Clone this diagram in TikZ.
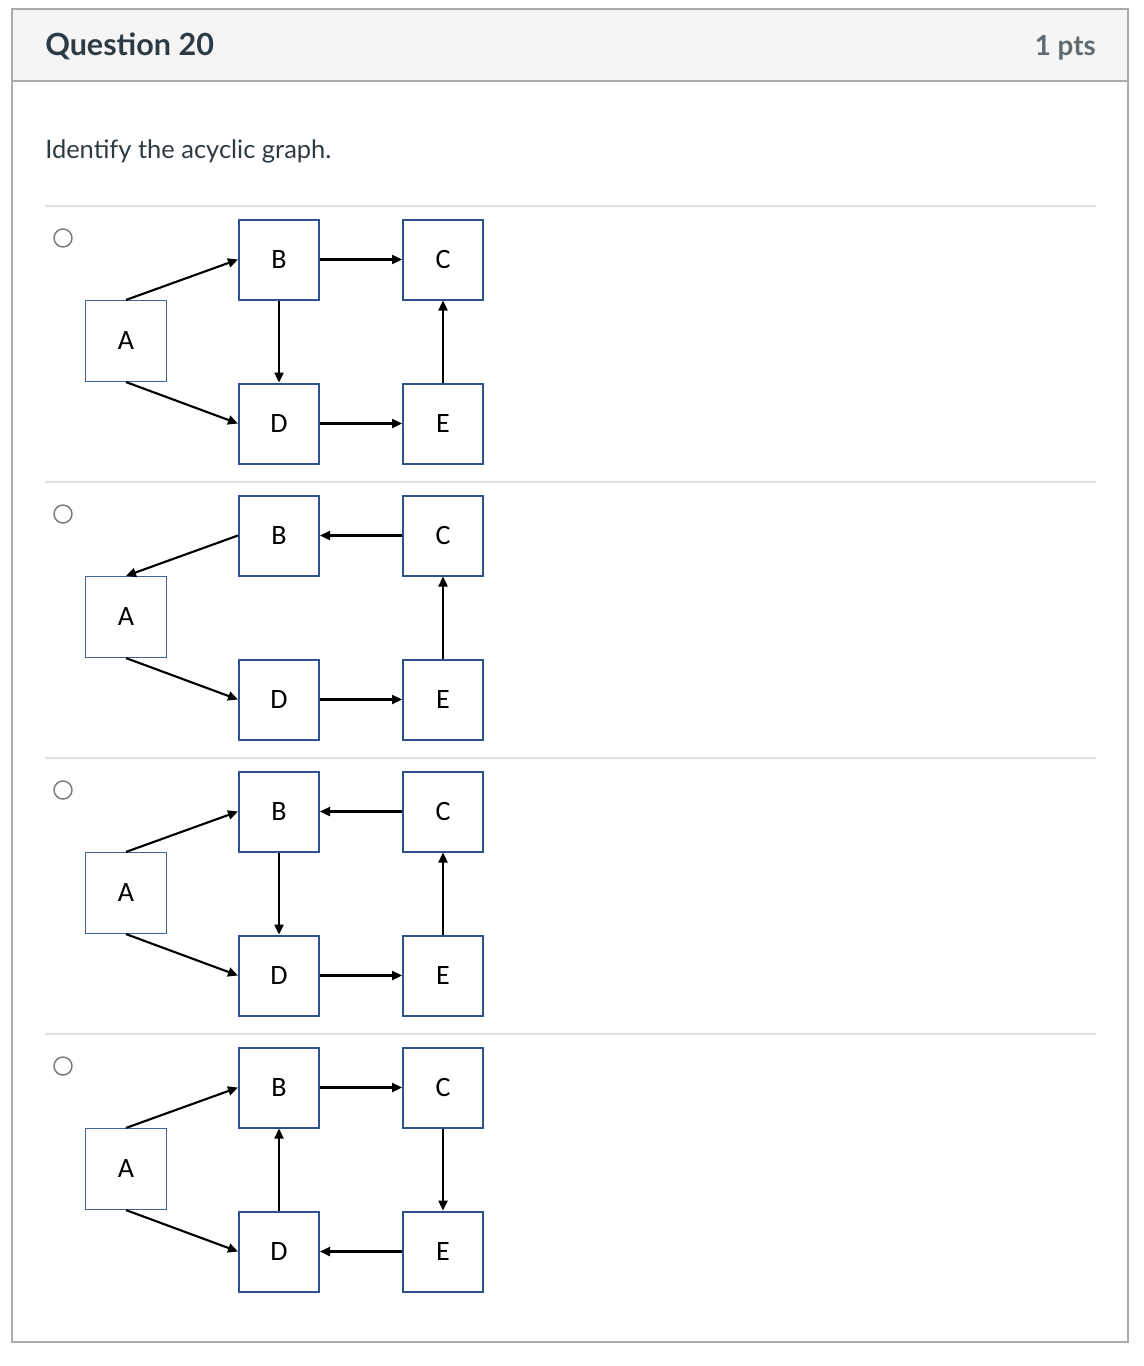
\documentclass[tikz,border=0pt]{standalone}
\usepackage{fontspec}
\setmainfont{Lato}
\newfontfamily\boxfont{Carlito}
\usetikzlibrary{arrows.meta}
\definecolor{hdrfill}{HTML}{F5F5F5}
\definecolor{framegray}{HTML}{ABABAB}
\definecolor{sepgray}{HTML}{E0E0E0}
\definecolor{txtdark}{HTML}{2D3B45}
\definecolor{ptsgray}{HTML}{5F6A73}
\definecolor{boxblue}{HTML}{2F528F}
\definecolor{boxlight}{HTML}{4063A3}
\definecolor{radiogray}{HTML}{7A7A7A}
\tikzset{
  boxtext/.style={font=\boxfont\fontsize{21}{24}\selectfont, text=black},
  vbox/.style={draw=boxblue, line width=1.5pt, minimum size=60pt, inner sep=0pt, boxtext},
  abox/.style={draw=boxlight, line width=0.8pt, minimum size=60.8pt, inner sep=0pt, boxtext},
  radio/.style={draw=radiogray, line width=1.1pt, circle, minimum size=13.5pt, inner sep=0pt},
  arr/.style={draw=black, line width=1.6pt, -{Triangle[length=7.5pt,width=6.8pt]}},
  sepline/.style={draw=sepgray, line width=0.8pt}
}
\begin{document}
\begin{tikzpicture}[x=0.75pt,y=-0.75pt]
\useasboundingbox (0,0) rectangle (1144,1366);
\fill[white] (0,0) rectangle (1144,1366);
\draw[framegray, line width=0.8pt, fill=white] (12,9) rectangle (1128,1342);
\draw[framegray, line width=0.8pt, fill=hdrfill] (12,9) rectangle (1128,81);
\node[anchor=base west, inner sep=0pt, text=txtdark, font=\fontsize{22.9}{27}\selectfont\bfseries] (title) at (45,56) {Question 20};
\node[anchor=base east, inner sep=0pt, text=ptsgray, font=\fontsize{20.8}{24}\selectfont\bfseries] (pts) at (1096,56) {1 pts};
\node[anchor=base west, inner sep=0pt, text=txtdark, font=\fontsize{19.1}{23}\selectfont] (prompt) at (45,158) {Identify the acyclic graph.};
\foreach \k in {0,1,2,3} {
  \begin{scope}[shift={(0,276*\k)}]
    \coordinate (sl\k) at (45,206);
    \coordinate (sr\k) at (1096,206);
    \draw[sepline] (sl\k) -- (sr\k);
    \node[radio] (r\k) at (63,238) {};
    \node[abox] (a\k) at (126,341) {A};
    \node[vbox] (b\k) at (279,259.5) {B};
    \node[vbox] (c\k) at (443,259.5) {C};
    \node[vbox] (d\k) at (279,423.5) {D};
    \node[vbox] (e\k) at (443,423.5) {E};
  \end{scope}
}
% graph 1
\draw[arr] (a0.north) -- (b0.west);
\draw[arr] (b0.east) -- (c0.west);
\draw[arr] (b0.south) -- (d0.north);
\draw[arr] (a0.south) -- (d0.west);
\draw[arr] (e0.north) -- (c0.south);
\draw[arr] (d0.east) -- (e0.west);
% graph 2
\draw[arr] (c1.west) -- (b1.east);
\draw[arr] (b1.west) -- (a1.north);
\draw[arr] (a1.south) -- (d1.west);
\draw[arr] (e1.north) -- (c1.south);
\draw[arr] (d1.east) -- (e1.west);
% graph 3
\draw[arr] (a2.north) -- (b2.west);
\draw[arr] (c2.west) -- (b2.east);
\draw[arr] (b2.south) -- (d2.north);
\draw[arr] (a2.south) -- (d2.west);
\draw[arr] (e2.north) -- (c2.south);
\draw[arr] (d2.east) -- (e2.west);
% graph 4
\draw[arr] (a3.north) -- (b3.west);
\draw[arr] (b3.east) -- (c3.west);
\draw[arr] (d3.north) -- (b3.south);
\draw[arr] (a3.south) -- (d3.west);
\draw[arr] (c3.south) -- (e3.north);
\draw[arr] (e3.west) -- (d3.east);
\end{tikzpicture}
\end{document}
